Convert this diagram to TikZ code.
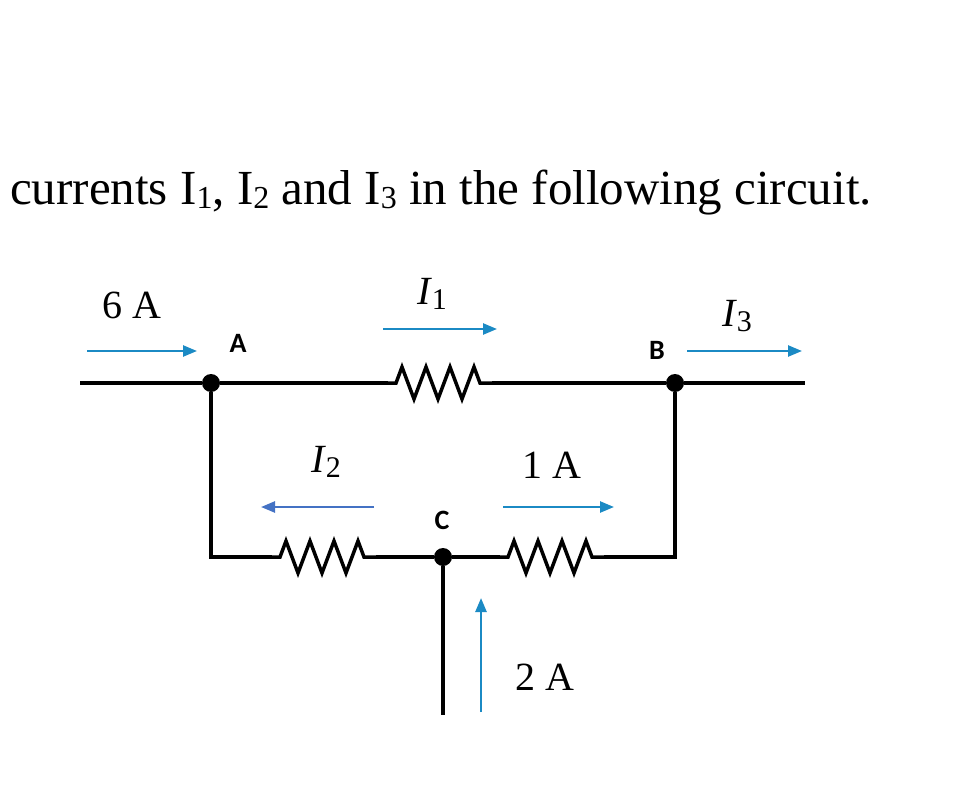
\documentclass[tikz,border=0pt]{standalone}
\usepackage{fontspec}
\setmainfont{Liberation Serif}
\newfontfamily\lab{Carlito}
\usetikzlibrary{decorations.pathmorphing,arrows.meta}
\definecolor{cb}{HTML}{1B8AC4}
\definecolor{cb2}{HTML}{4472C4}
\newcommand{\tsb}[1]{\raisebox{-0.15ex}{\fontsize{32}{32}\selectfont #1}}
\newcommand{\cI}[1]{\textit{I}\raisebox{-0.3ex}{\fontsize{30}{30}\selectfont #1}}
\begin{document}
\begin{tikzpicture}[x=1pt,y=-1pt,
  wire/.style={line width=4pt},
  res/.style={line width=3.5pt,decorate,decoration={zigzag,amplitude=16pt,segment length=24pt,pre length=8pt,post length=8pt}},
  dot/.style={circle,fill=black,inner sep=0pt,minimum size=18pt},
  cur/.style={cb,line width=2.5pt,-{Triangle[length=14pt,width=11pt]}},
  val/.style={font=\fontsize{40}{42}\selectfont},
  pt/.style={font=\lab\bfseries\fontsize{28}{30}\selectfont}]
\useasboundingbox (0,0) rectangle (960,810);
\node[anchor=base west,font=\fontsize{49}{52}\selectfont,inner sep=0] (t) at (10,205) {currents I\tsb{1}, I\tsb{2} and I\tsb{3} in the following circuit.};
\coordinate (L) at (80,383); \coordinate (R) at (805,383);
\node[dot] (A) at (211,383) {}; \node[dot] (B) at (675,383) {};
\node[dot] (C) at (443,557) {};
\coordinate (r1a) at (388,383); \coordinate (r1b) at (492,383);
\coordinate (BL) at (211,557); \coordinate (BR) at (675,557);
\coordinate (r2a) at (272,557); \coordinate (r2b) at (376,557);
\coordinate (r3a) at (500,557); \coordinate (r3b) at (604,557);
\coordinate (D) at (443,715);
\draw[wire] (L) -- (A) -- (r1a); \draw[res] (r1a) -- (r1b);
\draw[wire] (r1b) -- (B) -- (R);
\draw[wire,line join=miter] (A) -- (BL) -- (r2a); \draw[res] (r2a) -- (r2b);
\draw[wire] (r2b) -- (C) -- (r3a); \draw[res] (r3a) -- (r3b);
\draw[wire,line join=miter] (r3b) -- (BR) -- (B);
\draw[wire] (C) -- (D);
\coordinate (a1) at (87,351); \coordinate (a2) at (197,351);
\draw[cur] (a1) -- (a2);
\node[val] (l6) at (132,305) {6 A};
\node[pt] (lA) at (238,343) {A};
\coordinate (b1) at (383,329); \coordinate (b2) at (497,329);
\draw[cur] (b1) -- (b2);
\node[val] (l1) at (432,294) {\cI{1}};
\node[pt] (lB) at (657,350) {B};
\coordinate (c1) at (687,351); \coordinate (c2) at (802,351);
\draw[cur] (c1) -- (c2);
\node[val] (l3) at (737,316) {\cI{3}};
\coordinate (d1) at (374,507); \coordinate (d2) at (261,507);
\draw[cur,cb2] (d1) -- (d2);
\node[val] (l2) at (326,462) {\cI{2}};
\node[pt] (lC) at (442,520) {C};
\coordinate (e1) at (503,507); \coordinate (e2) at (614,507);
\draw[cur] (e1) -- (e2);
\node[val] (l1a) at (552,465) {1 A};
\coordinate (f1) at (481,712); \coordinate (f2) at (481,598);
\draw[cur] (f1) -- (f2);
\node[val] (l2a) at (545,677) {2 A};
\end{tikzpicture}
\end{document}
